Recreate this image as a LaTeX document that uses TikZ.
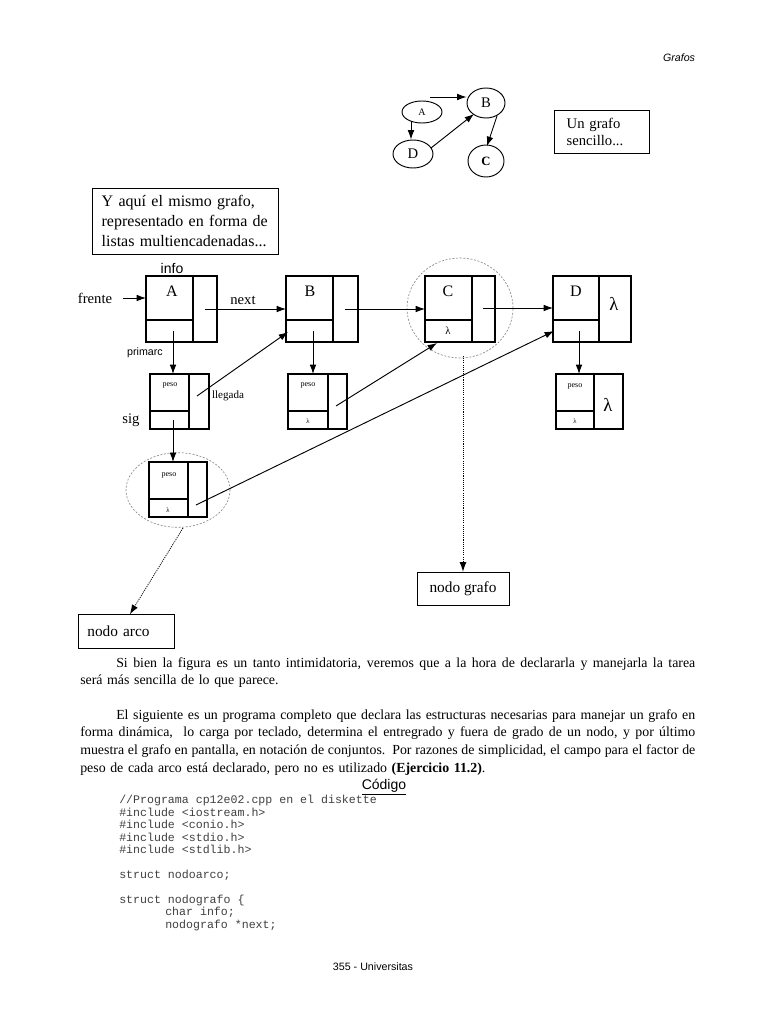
\documentclass[tikz,border=0pt]{standalone}
\usepackage{fontspec}
\setmainfont{Liberation Serif}
\setmonofont{Liberation Mono}
\newfontfamily\arialf{Liberation Sans}
\usetikzlibrary{shapes.geometric,arrows.meta}
\newcommand\fsz[2]{\fontsize{#1}{#2}\selectfont}
\newlength\jwd
\setlength\jwd{461.25pt}
\newcommand\jline[1]{\makebox[\jwd][s]{\spaceskip=0.25em plus 0.5em minus 0.1em\relax #1}}
\newcommand\mkrec[7]{%
  \node[rec,minimum width={(#4-#2)*0.75pt},minimum height={(#5-#3)*0.75pt}] (#1) at (#2,#3) {};
  \draw[recline] (#6,#3) -- (#6,#5) (#2,#7) -- (#6,#7);}
\begin{document}
\begin{tikzpicture}[x=0.75pt,y=-0.75pt,
  arr/.style={-{Latex[length=7pt,width=5pt]}, line width=0.7pt},
  dotarr/.style={-{Latex[length=7pt,width=5pt,line width=0pt]}, line width=0.6pt, dash pattern=on 0.8pt off 0.8pt},
  rec/.style={draw, line width=0.8pt, inner sep=0pt, outer sep=0pt, anchor=north west},
  recline/.style={line width=0.8pt},
  gell/.style={draw=black!45, ellipse, line width=0.5pt, dash pattern=on 1.5pt off 1.2pt, inner sep=0pt},
  tell/.style={draw, ellipse, line width=0.7pt, inner sep=0pt},
  lbl/.style={inner sep=0pt},
  tbox/.style={draw, line width=0.7pt, align=left, inner ysep=0pt},
  parstyle/.style={lbl, anchor=north west, text width=461.25pt, align=left, font=\fsz{10.4}{13.3}}]
\useasboundingbox[fill=white] (0,0) rectangle (768,1024);

% header
\node[lbl, font=\arialf\itshape\fsz{8}{9}] (hdr) at (679,58) {Grafos};

% ---------- small graph ----------
\node[tell, minimum width=30pt, minimum height=16.5pt, font=\fsz{7.5}{8}] (ga) at (422,112) {A};
\node[tell, minimum width=28.5pt, minimum height=22.5pt, font=\fsz{11}{12}] (gb) at (486,103) {B};
\node[tell, minimum width=30pt, minimum height=21pt, font=\fsz{11}{12}] (gd) at (413,154) {D};
\node[tell, minimum width=27pt, minimum height=24pt, font=\bfseries\fsz{9.5}{10}] (gc) at (486,161) {C};
\coordinate (gab) at (430,97);
\draw[arr] (gab) -- (gab -| gb.west);
\coordinate (gad) at (411,121);
\draw[arr] (gad) -- (gad |- gd.north);
\coordinate (gdb) at (431,148);
\draw[arr] (gdb) -- (474,114) coordinate (gbt);
\coordinate (gbc) at (497,116);
\draw[arr] (gbc) -- (487,146) coordinate (gct);

\node[tbox, minimum width=70.5pt, minimum height=32.25pt, text width=53pt, inner xsep=9pt, font=\fsz{11}{12.75}] (sencillo) at (602,131.5) {Un grafo\\sencillo...};

\node[tbox, minimum width=139.5pt, minimum height=49.5pt, text width=125pt, inner xsep=7pt, font=\fsz{12}{15}] (mismo) at (185,221) {Y aquí el mismo grafo,\\representado en forma de\\listas multiencadenadas...};

% ---------- records ----------
\mkrec{A}{146}{276}{217}{342}{193}{320}
\mkrec{B}{286}{276}{358}{342}{333}{320}
\mkrec{C}{425}{276}{495}{342}{472}{320}
\mkrec{D}{553}{276}{631}{342}{599}{320}
\mkrec{PA}{150}{374}{209}{429}{189}{411}
\mkrec{PB}{288}{374}{347}{429}{328}{411}
\mkrec{PD}{556}{374}{623}{429}{594}{411}
\mkrec{PL}{149}{462}{207}{517}{188}{499}

\node[lbl, font=\fsz{12}{13}] (tA) at (172,291) {A};
\node[lbl, font=\fsz{12}{13}] (tB) at (310,291) {B};
\node[lbl, font=\fsz{12}{13}] (tC) at (448,291) {C};
\node[lbl, font=\fsz{12}{13}] (tD) at (576,291) {D};
\node[lbl, font=\fsz{8}{9}] (lC) at (448,331) {λ};
\node[lbl, font=\fsz{14}{15}] (lD) at (614,304) {λ};
\node[lbl, font=\fsz{6}{7}] (pA) at (170,385) {peso};
\node[lbl, font=\fsz{6}{7}] (pB) at (308,385) {peso};
\node[lbl, font=\fsz{6}{7}] (pD) at (575,386) {peso};
\node[lbl, font=\fsz{6}{7}] (pL) at (169,475) {peso};
\node[lbl, font=\fsz{5}{6}] (lB) at (308,421) {λ};
\node[lbl, font=\fsz{5}{6}] (lPD) at (575,421) {λ};
\node[lbl, font=\fsz{5}{6}] (lL) at (168,510) {λ};
\node[lbl, font=\fsz{14}{15}] (lPD2) at (608,405) {λ};

\node[lbl, font=\arialf\fsz{10.5}{12}] (info) at (172,268) {info};
\node[lbl, font=\fsz{11}{12}] (frente) at (95,298) {frente};
\node[lbl, font=\fsz{11}{12}] (next) at (243,300) {next};
\node[lbl, font=\arialf\fsz{8}{9}] (primarc) at (145,353) {primarc};
\node[lbl, font=\fsz{8.3}{9}] (llegada) at (228,396) {llegada};
\node[lbl, font=\fsz{11}{12}] (sig) at (131,420) {sig};

% highlight ellipses
\node[gell, minimum width=79.5pt, minimum height=75pt] (Cel) at (460,308) {};
\node[gell, minimum width=78pt, minimum height=56pt] (Lel) at (178,490) {};

% connectors
\coordinate (fr) at (123,298);
\draw[arr] (fr) -- (fr -| A.west);
\coordinate (An) at (205,309);
\draw[arr] (An) -- (An -| B.west);
\coordinate (Bn) at (345,309);
\draw[arr] (Bn) -- (Bn -| C.west);
\coordinate (Cn) at (483,308);
\draw[arr] (Cn) -- (Cn -| D.west);
\coordinate (Ad) at (173,331);
\draw[arr] (Ad) -- (Ad |- PA.north);
\coordinate (Bd) at (313,331);
\draw[arr] (Bd) -- (Bd |- PB.north);
\coordinate (Dd) at (579,331);
\draw[arr] (Dd) -- (Dd |- PD.north);
\coordinate (PAs) at (173,420);
\draw[arr] (PAs) -- (PAs |- PL.north);
\coordinate (PAl) at (197,396);
\coordinate (Bsw) at (288,332);
\draw[arr] (PAl) -- (Bsw);
\coordinate (PBl) at (336,406);
\coordinate (Csw) at (437,343);
\draw[arr] (PBl) -- (Csw);
\coordinate (PLl) at (196,505);
\coordinate (Dsw) at (554,331);
\draw[arr] (PLl) -- (Dsw);

\node[tbox, minimum width=69pt, minimum height=24.75pt, font=\fsz{11.5}{12}] (ngrafo) at (463,588.5) {nodo grafo};
\node[tbox, minimum width=70.5pt, minimum height=25.5pt, text width=58pt, inner xsep=7pt, font=\fsz{11.5}{12}] (narco) at (126,631) {nodo arco};

\coordinate (Celb) at (463,356);
\draw[dotarr] (Celb) -- (Celb |- ngrafo.north);
\coordinate (Lelb) at (183,528);
\coordinate (narcot) at (130,614);
\draw[dotarr] (Lelb) -- (narcot);

% ---------- paragraphs ----------
\node[parstyle] (par1) at (80,657)
{\jline{\hspace*{27pt}Si bien la figura es un tanto intimidatoria, veremos que a la hora de declararla y manejarla la tarea}\\
será más sencilla de lo que parece.};
\node[parstyle] (par2) at (80,709)
{\jline{\hspace*{27pt}El siguiente es un programa completo que declara las estructuras necesarias para manejar un grafo en}\\
\jline{forma dinámica,\ \ lo carga por teclado, determina el entregrado y fuera de grado de un nodo, y por último}\\
\jline{muestra el grafo en pantalla, en notación de conjuntos. Por razones de simplicidad, el campo para el factor de}\\
peso de cada arco está declarado, pero no es utilizado \textbf{(Ejercicio 11.2)}.};

\node[lbl, font=\arialf\fsz{10.5}{12}] (codigo) at (384,787) {\underline{Código}};

\node[lbl, anchor=north west, align=left, text=black!75, font=\ttfamily\fsz{8.7}{9.35}] (code) at (119,795)
{//Programa cp12e02.cpp en el diskette\\
\#include <iostream.h>\\
\#include <conio.h>\\
\#include <stdio.h>\\
\#include <stdlib.h>\\
~\\
struct nodoarco;\\
~\\
struct nodografo \{\\
\hspace*{34.5pt}char info;\\
\hspace*{34.5pt}nodografo *next;};

\node[lbl, font=\arialf\fsz{8}{9}] (pie) at (373,967) {355 - Universitas};
\end{tikzpicture}
\end{document}
